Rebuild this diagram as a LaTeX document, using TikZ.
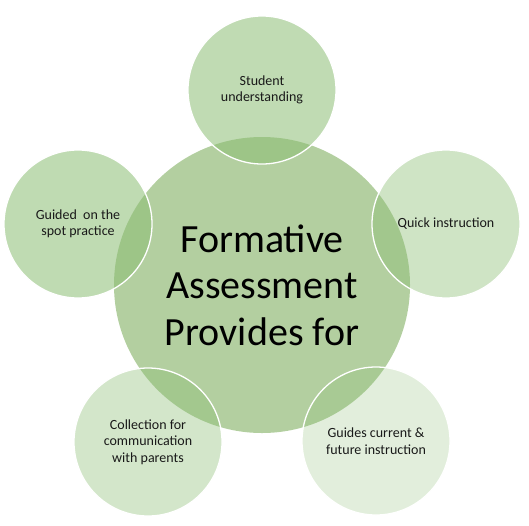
\documentclass[tikz,border=0pt]{standalone}
\usepackage{fontspec}
\setmainfont{Carlito}
\definecolor{basegreen}{RGB}{139,189,115}
\definecolor{centergreen}{RGB}{179,207,160}
\definecolor{txt}{RGB}{25,25,25}
\tikzset{
  outer/.style={circle, minimum size=148pt, inner sep=0pt, align=center,
    fill=basegreen, draw=white, line width=1.3pt, text=txt,
    font=\fontsize{14}{16.5}\selectfont},
  hub/.style={circle, minimum size=296pt, inner sep=0pt, align=center,
    fill=centergreen, text=black, font=\fontsize{40}{46.5}\selectfont}
}
\begin{document}
\begin{tikzpicture}[x=1pt,y=-1pt]
\useasboundingbox (0,0) rectangle (529,525);
\node[hub] (c) at (262,285) {Formative\\Assessment\\Provides for};
\node[outer, fill opacity=0.54, text opacity=1] (t) at (262,90) {Student\\understanding};
\node[outer, fill opacity=0.41, text opacity=1] (r) at (446,224) {Quick instruction};
\node[outer, fill opacity=0.25, text opacity=1] (br) at (376,441) {Guides current \&\\future instruction};
\node[outer, fill opacity=0.38, text opacity=1] (bl) at (148,442) {Collection for\\communication\\with parents};
\node[outer, fill opacity=0.55, text opacity=1] (l) at (78,224) {Guided~ on the\\spot practice};
\end{tikzpicture}
\end{document}
